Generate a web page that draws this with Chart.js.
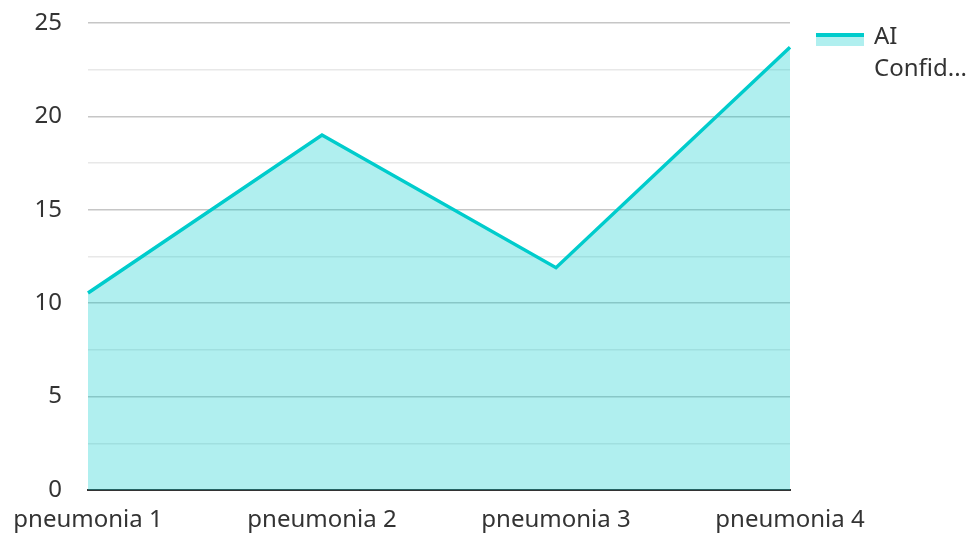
<!DOCTYPE html>
<html>
<head>
<meta charset="utf-8">
<script src="https://cdn.jsdelivr.net/npm/chart.js@4/dist/chart.umd.min.js"></script>
<style>
  html, body { margin: 0; padding: 0; background: #fff; }
  #wrap { width: 972px; height: 533px; position: relative; }
</style>
</head>
<body>
<div id="wrap"><canvas id="chart"></canvas></div>
<script>
const categories = ['pneumonia 1', 'pneumonia 2', 'pneumonia 3', 'pneumonia 4']
const confidence = [10.55, 19.0, 11.9, 23.7]
const seriesName = 'AI Confidence'
const legendLines = ['AI', 'Confid...']

const lineColor = 'rgb(0, 204, 204)'
const fillColor = 'rgba(0, 204, 204, 0.31)'
const fontFamily = "'Noto Sans', 'Open Sans', sans-serif"

// legend drawn by hand so the text can wrap like the original
const sideLegend = {
    id: 'sideLegend',
    afterDraw(chart) {
        const ctx = chart.ctx
        ctx.save()
        ctx.fillStyle = fillColor
        ctx.fillRect(816, 35, 48, 11)
        ctx.fillStyle = lineColor
        ctx.fillRect(816, 33, 48, 4)
        ctx.fillStyle = '#333'
        ctx.font = '24px ' + fontFamily
        ctx.textBaseline = 'middle'
        ctx.textAlign = 'left'
        legendLines.forEach((t, i) => ctx.fillText(t, 874, 37 + i * 32))
        ctx.restore()
    }
}

new Chart(document.getElementById('chart'), {
    type: 'line',
    data: {
        labels: categories,
        datasets: [{
            label: seriesName,
            data: confidence,
            borderColor: lineColor,
            backgroundColor: fillColor,
            borderWidth: 3.5,
            fill: 'origin',
            pointRadius: 0,
            tension: 0
        }]
    },
    options: {
        responsive: true,
        maintainAspectRatio: false,
        animation: false,
        layout: { padding: { top: 23, right: 182, left: 0, bottom: 0 } },
        plugins: {
            legend: { display: false },
            tooltip: { enabled: false }
        },
        scales: {
            x: {
                offset: false,
                afterFit(scale) { scale.height = 43 },
                grid: { display: false },
                border: { display: true, color: '#333', width: 2 },
                ticks: {
                    color: '#333',
                    font: { family: fontFamily, size: 24 },
                    padding: 8,
                    maxRotation: 0,
                    autoSkip: false
                }
            },
            y: {
                min: 0,
                max: 25,
                afterFit(scale) {
                    scale.width = 88
                    scale.paddingTop = 0
                    scale.paddingBottom = 0
                },
                border: { display: false },
                grid: {
                    drawTicks: false,
                    color: c => (c.tick && c.tick.value % 5 === 0) ? '#c6c6c6' : '#e8e8e8',
                    lineWidth: 1.5
                },
                ticks: {
                    stepSize: 2.5,
                    color: '#333',
                    font: { family: fontFamily, size: 24 },
                    padding: 26,
                    callback: v => (v % 5 === 0 ? v : '')
                }
            }
        }
    },
    plugins: [sideLegend]
})
</script>
</body>
</html>
